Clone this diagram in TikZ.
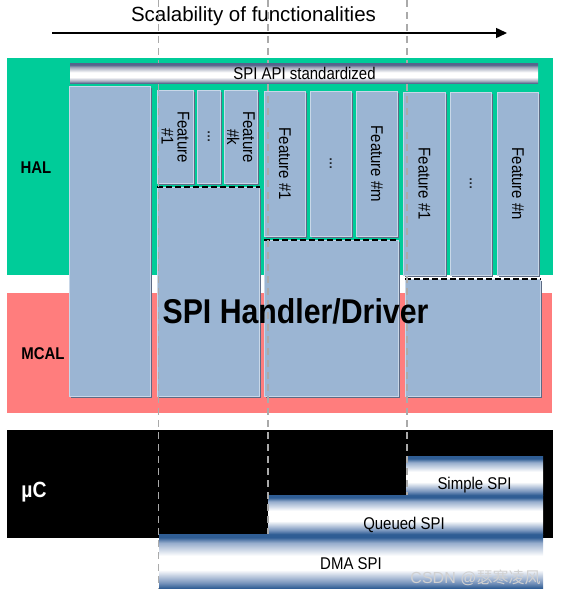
\documentclass[tikz,border=0pt]{standalone}
\usepackage{fontspec}
\setmainfont{Liberation Sans}
\newfontfamily\narrowsf[FakeStretch=0.88]{Liberation Sans}
\newfontfamily\cjkfont{Noto Sans CJK SC}
\usetikzlibrary{arrows.meta,shadows}
\definecolor{halgreen}{RGB}{0,204,153}
\definecolor{mcalred}{RGB}{255,125,125}
\definecolor{blkfill}{RGB}{155,181,211}
\definecolor{blkedge}{RGB}{200,215,232}
\definecolor{blkshadow}{RGB}{92,106,132}
\definecolor{apidk}{RGB}{85,100,140}
\definecolor{apimid}{RGB}{160,166,186}
\definecolor{ucdk}{RGB}{47,93,148}
\definecolor{ucmid}{RGB}{120,148,188}
\definecolor{uclt}{RGB}{150,172,204}
\definecolor{vgray}{RGB}{170,170,170}
\pgfdeclareverticalshading{apishade}{100bp}{color(0bp)=(apidk); color(25bp)=(apidk); color(30bp)=(apimid); color(40bp)=(white); color(52bp)=(white); color(65bp)=(apimid); color(71bp)=(apidk); color(100bp)=(apidk)}
\pgfdeclareverticalshading{ucshade}{100bp}{color(0bp)=(ucdk); color(25bp)=(ucdk); color(30bp)=(ucmid); color(42bp)=(white); color(55bp)=(white); color(67bp)=(uclt); color(72bp)=(ucdk); color(100bp)=(ucdk)}
\newcommand\blkbox[5]{\node[blk, anchor=north west, minimum width={#4-#2}, minimum height={#5-#3}] (#1) at (#2,#3) {};}
\newcommand\barbox[6]{\node[anchor=north west, inner sep=0pt, minimum width={#4-#2}, minimum height={#5-#3}, shading=#6] (#1) at (#2,#3) {};}
\newcommand\bandbox[6]{\node[anchor=north west, inner sep=0pt, minimum width={#4-#2}, minimum height={#5-#3}, fill=#6] (#1) at (#2,#3) {};}
\begin{document}
\begin{tikzpicture}[x=1pt,y=-1pt,
  blk/.style={rectangle, inner sep=0pt, fill=blkfill, draw=blkedge, line width=0.8pt,
    drop shadow={shadow xshift=2pt, shadow yshift=-2pt, fill=blkshadow, opacity=1}},
  lbl/.style={inner sep=0pt, font=\narrowsf\bfseries\fontsize{17}{20}\selectfont},
  ftxt/.style={inner sep=0pt, rotate=-90, align=center, font=\narrowsf\fontsize{17}{16}\selectfont},
  bartxt/.style={inner sep=0pt, font=\narrowsf\fontsize{17}{20}\selectfont},
  vdash/.style={draw=vgray, line width=1.3pt, dash pattern=on 7pt off 5pt},
  bdash/.style={draw=black, line width=1.4pt, dash pattern=on 6pt off 3pt}]
\useasboundingbox (0,0) rectangle (560,594);
% title and arrow
\node[inner sep=0pt, anchor=base, font=\fontsize{20.5}{24}\selectfont] (title) at (253.5,22) {Scalability of functionalities};
\coordinate (arrs) at (52,33);
\coordinate (arre) at (507,33);
\draw[line width=1.5pt, -{Triangle[length=11pt,width=10pt]}] (arrs) -- (arre);
% bands
\bandbox{hal}{7}{58}{553}{275}{halgreen}
\bandbox{mcal}{7}{293}{552}{413}{mcalred}
\bandbox{uc}{7}{430}{553}{538}{black}
% blocks
\blkbox{leftblk}{69}{86}{150}{396}
\blkbox{gaf}{157}{90}{193}{183}
\blkbox{gad}{197}{90}{220}{183}
\blkbox{gak}{224}{90}{257}{183}
\blkbox{galow}{157}{187}{259}{396}
\blkbox{gbf}{264}{91}{305}{236}
\blkbox{gbd}{310}{91}{351}{236}
\blkbox{gbm}{356}{91}{397}{236}
\blkbox{gblow}{264}{240}{398}{396}
\blkbox{gcf}{403}{92}{445}{275}
\blkbox{gcd}{450}{92}{491}{275}
\blkbox{gcn}{497}{92}{538}{275}
\blkbox{gclow}{405}{279}{540}{396}
\draw[bdash] (galow.north west) -- (galow.north east);
\draw[bdash] (gblow.north west) -- (gblow.north east);
\draw[bdash] (gclow.north west) -- (gclow.north east);
% uC bars
\barbox{dma}{159}{534}{543}{588}{ucshade}
\barbox{queued}{268}{495}{543}{534}{ucshade}
\barbox{simple}{406}{456}{543}{495}{ucshade}
% vertical dashed lines
\coordinate (va) at (158.5,0);
\coordinate (vb) at (268,0);
\coordinate (vc) at (407,0);
\draw[vdash] (va) -- (va |- dma.south);
\draw[vdash] (vb) -- (vb |- queued.south);
\draw[vdash] (vc) -- (vc |- simple.south);
% API bar
\barbox{api}{70}{63}{538}{83}{apishade}
\node[bartxt, anchor=base] (apitxt) at (304.5,79.5) {SPI API standardized};
% layer labels
\node[lbl, anchor=base] (hallbl) at (36,173) {HAL};
\node[lbl, anchor=base] (mcallbl) at (43,359) {MCAL};
\node[lbl, anchor=base, text=white, font=\narrowsf\bfseries\fontsize{22}{24}\selectfont] (uclbl) at (34,497) {µC};
% feature texts
\node[ftxt] (tgaf) at (gaf.center) {Feature\\\#1};
\node[ftxt] (tgad) at (gad.center) {...};
\node[ftxt] (tgak) at (gak.center) {Feature\\\#k};
\node[ftxt] (tgbf) at (gbf.center) {Feature \#1};
\node[ftxt] (tgbd) at (gbd.center) {...};
\node[ftxt] (tgbm) at (gbm.center) {Feature \#m};
\node[ftxt] (tgcf) at (gcf.center) {Feature \#1};
\node[ftxt] (tgcd) at (gcd.center) {...};
\node[ftxt] (tgcn) at (gcn.center) {Feature \#n};
% big label
\node[inner sep=0pt, anchor=base, font=\narrowsf\bfseries\fontsize{34.4}{38}\selectfont] (handler) at (295.5,323) {SPI Handler/Driver};
% bar texts
\node[bartxt, anchor=base] (simpletxt) at (474.5,489.5) {Simple SPI};
\node[bartxt, anchor=base] (queuedtxt) at (404,529) {Queued SPI};
\node[bartxt, anchor=base] (dmatxt) at (351,569) {DMA SPI};
% watermark
\node[inner sep=0pt, anchor=base, text=white!82!black, font=\fontsize{16}{18}\selectfont] (wm) at (475.5,583) {CSDN @{\cjkfont 瑟寒凌风}};
\end{tikzpicture}
\end{document}
